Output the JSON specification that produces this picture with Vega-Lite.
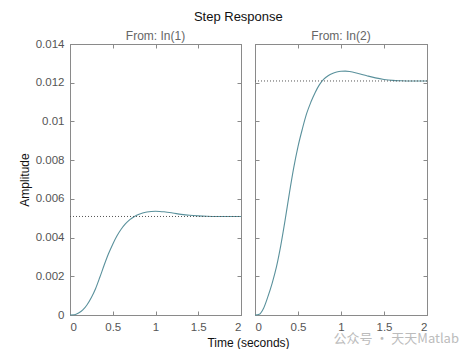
{
  "$schema": "https://vega.github.io/schema/vega-lite/v6.json",
  "padding": {"left": 17, "top": 10, "right": 0, "bottom": 0},
  "background": "white",
  "title": {"text": "Step Response", "fontSize": 13, "fontWeight": "normal", "color": "#111111", "font": "Liberation Sans", "anchor": "middle", "offset": 6},
  "config": {
    "font": "Liberation Sans",
    "view": {"stroke": "#8a8a8a", "strokeWidth": 1},
    "axis": {"grid": false, "domainColor": "#8a8a8a", "tickColor": "#8a8a8a", "tickSize": -4, "labelColor": "#555555", "labelFontSize": 11.5, "titleFontWeight": "normal", "titleFontSize": 12, "titleColor": "#111111"},
    "title": {"fontSize": 12, "fontWeight": "normal", "color": "#666666", "offset": -5}
  },
  "datasets": {
    "resp": [
      {"panel": "In(1)", "t": 0, "v": 0},
      {"panel": "In(1)", "t": 0.05, "v": 0.00001},
      {"panel": "In(1)", "t": 0.1, "v": 0.0001},
      {"panel": "In(1)", "t": 0.15, "v": 0.00026},
      {"panel": "In(1)", "t": 0.2, "v": 0.00053},
      {"panel": "In(1)", "t": 0.25, "v": 0.0009},
      {"panel": "In(1)", "t": 0.3, "v": 0.00137},
      {"panel": "In(1)", "t": 0.35, "v": 0.00196},
      {"panel": "In(1)", "t": 0.4, "v": 0.00258},
      {"panel": "In(1)", "t": 0.45, "v": 0.00316},
      {"panel": "In(1)", "t": 0.5, "v": 0.00366},
      {"panel": "In(1)", "t": 0.55, "v": 0.00409},
      {"panel": "In(1)", "t": 0.6, "v": 0.00444},
      {"panel": "In(1)", "t": 0.65, "v": 0.00472},
      {"panel": "In(1)", "t": 0.7, "v": 0.00493},
      {"panel": "In(1)", "t": 0.75, "v": 0.00508},
      {"panel": "In(1)", "t": 0.8, "v": 0.00519},
      {"panel": "In(1)", "t": 0.85, "v": 0.00527},
      {"panel": "In(1)", "t": 0.9, "v": 0.00532},
      {"panel": "In(1)", "t": 0.95, "v": 0.00535},
      {"panel": "In(1)", "t": 1.0, "v": 0.00536},
      {"panel": "In(1)", "t": 1.05, "v": 0.00535},
      {"panel": "In(1)", "t": 1.1, "v": 0.00533},
      {"panel": "In(1)", "t": 1.2, "v": 0.00527},
      {"panel": "In(1)", "t": 1.3, "v": 0.0052},
      {"panel": "In(1)", "t": 1.4, "v": 0.00515},
      {"panel": "In(1)", "t": 1.5, "v": 0.00512},
      {"panel": "In(1)", "t": 1.6, "v": 0.0051},
      {"panel": "In(1)", "t": 1.7, "v": 0.00509},
      {"panel": "In(1)", "t": 1.8, "v": 0.00509},
      {"panel": "In(1)", "t": 1.9, "v": 0.00509},
      {"panel": "In(1)", "t": 2.0, "v": 0.00509},
      {"panel": "In(2)", "t": 0, "v": 0},
      {"panel": "In(2)", "t": 0.05, "v": 0.00004},
      {"panel": "In(2)", "t": 0.1, "v": 0.00035},
      {"panel": "In(2)", "t": 0.15, "v": 0.00095},
      {"panel": "In(2)", "t": 0.2, "v": 0.00165},
      {"panel": "In(2)", "t": 0.25, "v": 0.0025},
      {"panel": "In(2)", "t": 0.3, "v": 0.0036},
      {"panel": "In(2)", "t": 0.35, "v": 0.0049},
      {"panel": "In(2)", "t": 0.4, "v": 0.0063},
      {"panel": "In(2)", "t": 0.45, "v": 0.0076},
      {"panel": "In(2)", "t": 0.5, "v": 0.0087},
      {"panel": "In(2)", "t": 0.55, "v": 0.0096},
      {"panel": "In(2)", "t": 0.6, "v": 0.0104},
      {"panel": "In(2)", "t": 0.65, "v": 0.011},
      {"panel": "In(2)", "t": 0.7, "v": 0.0115},
      {"panel": "In(2)", "t": 0.75, "v": 0.0119},
      {"panel": "In(2)", "t": 0.8, "v": 0.01218},
      {"panel": "In(2)", "t": 0.85, "v": 0.01236},
      {"panel": "In(2)", "t": 0.9, "v": 0.01248},
      {"panel": "In(2)", "t": 0.95, "v": 0.01255},
      {"panel": "In(2)", "t": 1.0, "v": 0.01259},
      {"panel": "In(2)", "t": 1.05, "v": 0.0126},
      {"panel": "In(2)", "t": 1.1, "v": 0.01258},
      {"panel": "In(2)", "t": 1.2, "v": 0.01248},
      {"panel": "In(2)", "t": 1.3, "v": 0.01236},
      {"panel": "In(2)", "t": 1.4, "v": 0.01225},
      {"panel": "In(2)", "t": 1.5, "v": 0.01217},
      {"panel": "In(2)", "t": 1.6, "v": 0.01212},
      {"panel": "In(2)", "t": 1.7, "v": 0.0121},
      {"panel": "In(2)", "t": 1.8, "v": 0.01209},
      {"panel": "In(2)", "t": 1.9, "v": 0.01209},
      {"panel": "In(2)", "t": 2.0, "v": 0.01209}
    ],
    "ss": [
      {"panel": "In(1)", "t": 0, "v": 0.00509},
      {"panel": "In(1)", "t": 2, "v": 0.00509},
      {"panel": "In(2)", "t": 0, "v": 0.01209},
      {"panel": "In(2)", "t": 2, "v": 0.01209}
    ]
  },
  "spacing": 14,
  "bounds": "flush",
  "hconcat": [
    {
      "width": 171,
      "height": 271,
      "title": "From: In(1)",
      "resolve": {"axis": {"x": "independent", "y": "independent"}},
      "layer": [
        {
          "data": {"name": "resp"},
          "transform": [{"filter": "datum.panel === 'In(1)'"}],
          "mark": {"type": "line", "color": "#5a919c", "strokeWidth": 1.1, "interpolate": "monotone"},
          "encoding": {
            "x": {"field": "t", "type": "quantitative", "scale": {"domain": [0, 2], "nice": false},
              "axis": {"values": [0, 0.5, 1, 1.5, 2], "format": "~g", "labelPadding": 10, "title": "Time (seconds)", "titleAnchor": "middle", "titleX": 178, "titleY": 31, "titleBaseline": "alphabetic", "titleAlign": "center"}},
            "y": {"field": "v", "type": "quantitative", "scale": {"domain": [0, 0.014], "nice": false},
              "axis": {"values": [0, 0.002, 0.004, 0.006, 0.008, 0.01, 0.012, 0.014], "format": "~g", "labelPadding": 10, "title": "Amplitude", "titlePadding": 4}}
          }
        },
        {
          "data": {"name": "ss"},
          "transform": [{"filter": "datum.panel === 'In(1)'"}],
          "mark": {"type": "line", "color": "#555555", "strokeWidth": 1, "strokeDash": [1, 2]},
          "encoding": {
            "x": {"field": "t", "type": "quantitative", "scale": {"domain": [0, 2], "nice": false},
              "axis": {"orient": "top", "values": [0, 0.5, 1, 1.5, 2], "labels": false, "title": null}},
            "y": {"field": "v", "type": "quantitative", "scale": {"domain": [0, 0.014], "nice": false},
              "axis": {"orient": "right", "values": [0, 0.002, 0.004, 0.006, 0.008, 0.01, 0.012, 0.014], "labels": false, "title": null}}
          }
        }
      ]
    },
    {
      "width": 172,
      "height": 271,
      "title": "From: In(2)",
      "resolve": {"axis": {"x": "independent", "y": "independent"}},
      "layer": [
        {
          "data": {"name": "resp"},
          "transform": [{"filter": "datum.panel === 'In(2)'"}],
          "mark": {"type": "line", "color": "#5a919c", "strokeWidth": 1.1, "interpolate": "monotone"},
          "encoding": {
            "x": {"field": "t", "type": "quantitative", "scale": {"domain": [0, 2], "nice": false},
              "axis": {"values": [0, 0.5, 1, 1.5, 2], "format": "~g", "labelPadding": 10, "title": "公众号 · 天天Matlab", "titleFont": "Noto Sans CJK SC", "titleFontSize": 13, "titleColor": "#bcbcbc", "titleAnchor": "start", "titleAlign": "left", "titleX": 78, "titleY": 27, "titleBaseline": "alphabetic"}},
            "y": {"field": "v", "type": "quantitative", "scale": {"domain": [0, 0.014], "nice": false},
              "axis": {"values": [0, 0.002, 0.004, 0.006, 0.008, 0.01, 0.012, 0.014], "format": "~g", "labelPadding": 10, "labelOpacity": 0, "title": null}}
          }
        },
        {
          "data": {"name": "ss"},
          "transform": [{"filter": "datum.panel === 'In(2)'"}],
          "mark": {"type": "line", "color": "#555555", "strokeWidth": 1, "strokeDash": [1, 2]},
          "encoding": {
            "x": {"field": "t", "type": "quantitative", "scale": {"domain": [0, 2], "nice": false},
              "axis": {"orient": "top", "values": [0, 0.5, 1, 1.5, 2], "labels": false, "title": null}},
            "y": {"field": "v", "type": "quantitative", "scale": {"domain": [0, 0.014], "nice": false},
              "axis": {"orient": "right", "values": [0, 0.002, 0.004, 0.006, 0.008, 0.01, 0.012, 0.014], "labels": false, "title": null}}
          }
        }
      ]
    }
  ]
}
